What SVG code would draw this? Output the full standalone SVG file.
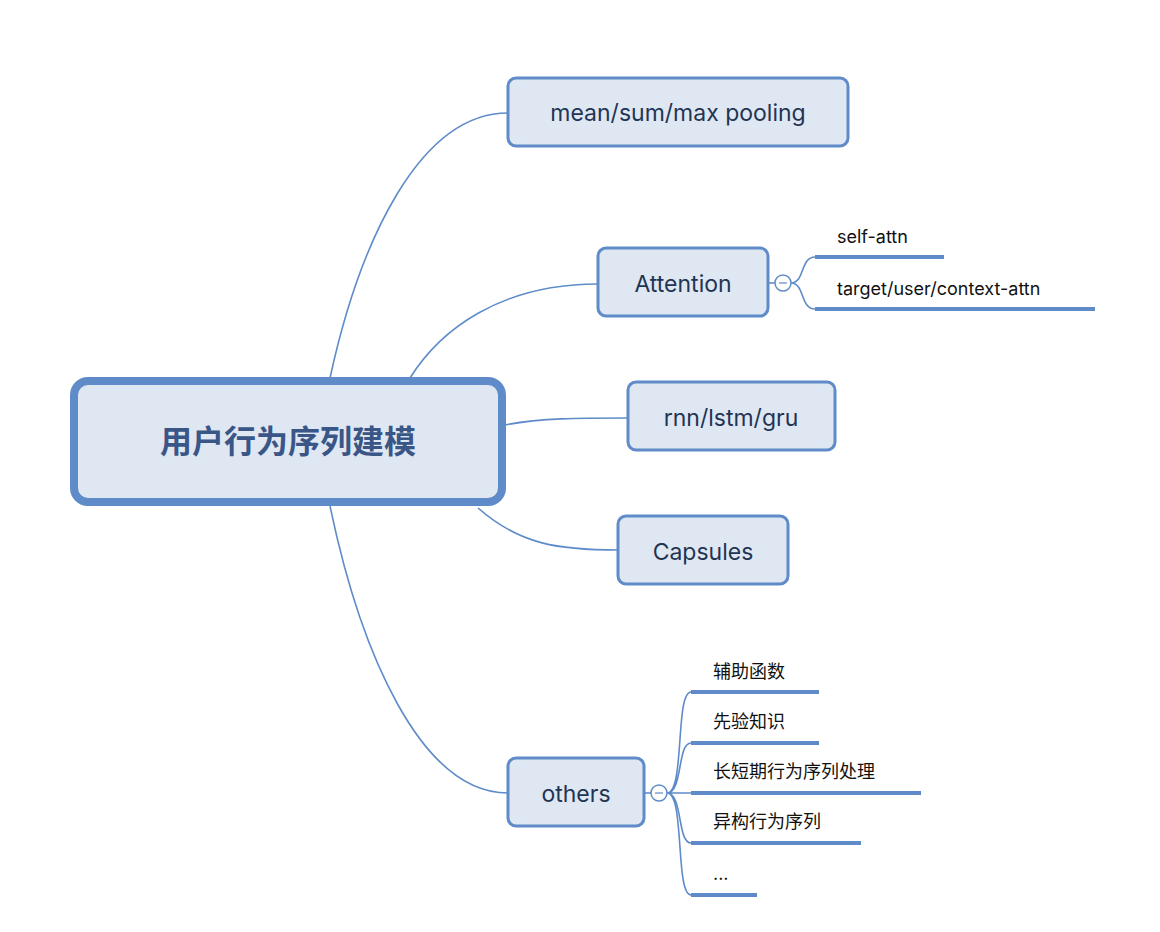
<svg xmlns="http://www.w3.org/2000/svg" width="1160" height="932" viewBox="0 0 1160 932">
<style>
.n{fill:#dfe7f3;stroke:#5f8cc9;stroke-width:3}
.t{font-family:Inter,"Liberation Sans","Noto Sans CJK SC",sans-serif;font-size:23px;fill:#1f3553;text-anchor:middle}
.s{font-family:Inter,"Liberation Sans","Noto Sans CJK SC",sans-serif;font-size:18px;fill:#111}
.c{fill:none;stroke:#5f8cc9;stroke-width:1.6}
.u{stroke:#5f8cc9;stroke-width:4}
.k{fill:#fff;stroke:#5f8cc9;stroke-width:1.5}
</style>
<rect width="1160" height="932" fill="#fff"/>
<g id="connectors">
<path class="c" d="M330,378 C360,240 420,113 508,113"/>
<path class="c" d="M410,378 C440,330 500,284 598,284"/>
<path class="c" d="M505,425 C540,418 580,418 628,418"/>
<path class="c" d="M478,508 C520,545 560,550 618,550"/>
<path class="c" d="M330,506 C360,650 420,793 508,793"/>
<path class="c" d="M768,283 L775,283"/>
<path class="c" d="M791,283 C805,283 800,257 815,257 M791,283 C805,283 800,309 815,309"/>
<path class="c" d="M644,793 L651,793"/>
<path class="c" d="M667,793 C685,793 675,692 691,692 M667,793 C683,793 677,743 691,743 M667,793 L691,793 M667,793 C683,793 677,843 691,843 M667,793 C685,793 675,895 691,895"/>
</g>
<g id="root"><rect x="74" y="381" width="428" height="121" rx="14" fill="#dfe7f3" stroke="#5f8cc9" stroke-width="8"/>
<text x="288" y="453" font-family="'Noto Sans CJK SC',sans-serif" font-size="32" font-weight="bold" fill="#3a5686" text-anchor="middle">用户行为序列建模</text></g>
<g id="pooling"><rect class="n" x="508" y="78" width="340" height="68" rx="8"/><text class="t" x="678" y="121">mean/sum/max pooling</text></g>
<g id="attention"><rect class="n" x="598" y="248" width="170" height="68" rx="8"/><text class="t" x="683" y="292">Attention</text>
<circle class="k" cx="783" cy="283" r="8"/><line x1="779" y1="283" x2="787" y2="283" stroke="#5f8cc9" stroke-width="1.2"/></g>
<g id="self-attn"><line class="u" x1="815" y1="257" x2="944" y2="257"/><text class="s" x="837" y="243">self-attn</text></g>
<g id="target-attn"><line class="u" x1="815" y1="309" x2="1095" y2="309"/><text class="s" x="837" y="295">target/user/context-attn</text></g>
<g id="rnn"><rect class="n" x="628" y="382" width="207" height="68" rx="8"/><text class="t" x="731" y="426">rnn/lstm/gru</text></g>
<g id="capsules"><rect class="n" x="618" y="516" width="170" height="68" rx="8"/><text class="t" x="703" y="560">Capsules</text></g>
<g id="others"><rect class="n" x="508" y="758" width="136" height="68" rx="8"/><text class="t" x="576" y="802">others</text>
<circle class="k" cx="659" cy="793" r="8"/><line x1="655" y1="793" x2="663" y2="793" stroke="#5f8cc9" stroke-width="1.2"/></g>
<g id="o1"><line class="u" x1="691" y1="692" x2="819" y2="692"/><text class="s" x="713" y="678">辅助函数</text></g>
<g id="o2"><line class="u" x1="691" y1="743" x2="819" y2="743"/><text class="s" x="713" y="728">先验知识</text></g>
<g id="o3"><line class="u" x1="691" y1="793" x2="921" y2="793"/><text class="s" x="713" y="778">长短期行为序列处理</text></g>
<g id="o4"><line class="u" x1="691" y1="843" x2="861" y2="843"/><text class="s" x="713" y="828">异构行为序列</text></g>
<g id="o5"><line class="u" x1="691" y1="895" x2="757" y2="895"/><text class="s" x="713" y="880">...</text></g>
</svg>
